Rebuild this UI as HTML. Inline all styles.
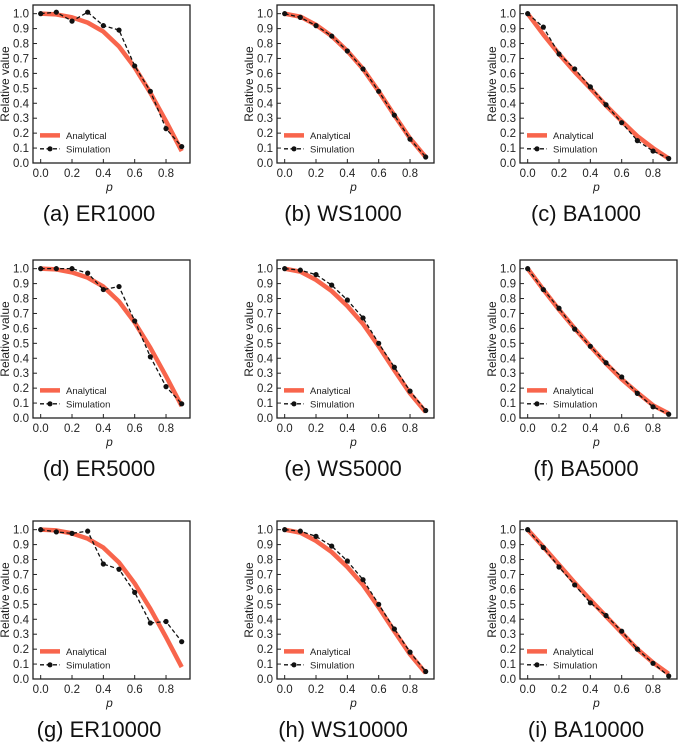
<!DOCTYPE html>
<html><head><meta charset="utf-8"><style>
body{margin:0;background:#fff;}
svg{display:block;font-family:"Liberation Sans",sans-serif;}
</style></head><body>
<svg id="fig" width="685" height="743" viewBox="0 0 685 743"></svg>
<script>
const pValues=[0,0.1,0.2,0.3,0.4,0.5,0.6,0.7,0.8,0.9];
const yTicks=[0,0.1,0.2,0.3,0.4,0.5,0.6,0.7,0.8,0.9,1.0];
const xTicks=[0,0.2,0.4,0.6,0.8];
const titles=["(a) ER1000","(b) WS1000","(c) BA1000","(d) ER5000","(e) WS5000","(f) BA5000","(g) ER10000","(h) WS10000","(i) BA10000"];
const anaER=[1.0,0.995,0.975,0.94,0.88,0.78,0.64,0.47,0.28,0.08];
const anaWS=[1.0,0.98,0.925,0.85,0.75,0.63,0.48,0.32,0.165,0.04];
const anaBA=[1.0,0.86,0.73,0.61,0.5,0.385,0.28,0.18,0.1,0.03];
const anaBA2=[1.0,0.86,0.725,0.6,0.48,0.365,0.26,0.17,0.085,0.03];
const anaBA3=[1.0,0.885,0.765,0.645,0.53,0.42,0.31,0.2,0.11,0.035];
const simA=[1.0,1.01,0.95,1.01,0.92,0.89,0.65,0.48,0.23,0.11];
const simB=[1.0,0.975,0.92,0.85,0.75,0.63,0.48,0.32,0.16,0.04];
const simC=[1.0,0.91,0.73,0.63,0.51,0.39,0.27,0.15,0.08,0.03];
const simD=[1.0,1.0,1.0,0.97,0.86,0.88,0.65,0.41,0.21,0.095];
const simE=[1.0,0.99,0.96,0.89,0.79,0.67,0.5,0.34,0.18,0.05];
const simF=[1.0,0.86,0.735,0.595,0.48,0.37,0.275,0.165,0.075,0.025];
const simG=[1.0,0.985,0.975,0.99,0.77,0.735,0.58,0.375,0.385,0.25];
const simH=[1.0,0.99,0.955,0.89,0.79,0.665,0.5,0.335,0.18,0.05];
const simI=[1.0,0.88,0.75,0.63,0.51,0.425,0.32,0.2,0.105,0.02];
const anaAll=[anaER,anaWS,anaBA,anaER,anaWS,anaBA2,anaER,anaWS,anaBA3];
const simAll=[simA,simB,simC,simD,simE,simF,simG,simH,simI];

const NS="http://www.w3.org/2000/svg";
const svg=document.getElementById('fig');
function mk(tag,attrs,parent){const e=document.createElementNS(NS,tag);for(const k in attrs)e.setAttribute(k,attrs[k]);(parent||svg).appendChild(e);return e;}
const colLeft=[33,277,520];
const rowTop=[5,260,521];
const W=157,H=158;
const XMIN=-0.049,XMAX=0.953,YMIN=0,YMAX=1.058;
for(let i=0;i<9;i++){
  const L=colLeft[i%3],T=rowTop[Math.floor(i/3)];
  const g=mk('g',{});
  
  
  const X=v=>L+(v-XMIN)/(XMAX-XMIN)*W;
  const Y=v=>T+H-(v-YMIN)/(YMAX-YMIN)*H;
  yTicks.forEach(t=>{
    mk('line',{x1:L,x2:L+4,y1:Y(t),y2:Y(t),stroke:'#222','stroke-width':1},g);
    const tx=mk('text',{x:L-4,y:Y(t)+4,'text-anchor':'end','font-size':11.5,fill:'#222'},g);
    tx.textContent=t.toFixed(1);
    
    
  });
  xTicks.forEach(t=>{
    mk('line',{x1:X(t),x2:X(t),y1:T+H,y2:T+H-4,stroke:'#222','stroke-width':1},g);
    const tx=mk('text',{x:X(t),y:T+H+14,'text-anchor':'middle','font-size':11.5,fill:'#222'},g);
    tx.textContent=t.toFixed(1);
    
    
  });
  const yl=mk('text',{x:0,y:0,transform:`translate(${L-24},${T+H/2}) rotate(-90)`,'text-anchor':'middle','font-size':12,fill:'#222'},g);
  yl.textContent='Relative value';
  
  
  const xl=mk('text',{x:L+W/2-2,y:T+H+28,'text-anchor':'middle','font-size':12,'font-style':'italic',fill:'#222'},g);
  xl.textContent='p';
  
  
  const ana=anaAll[i];
  const ap=mk('polyline',{points:pValues.map((p,k)=>X(p)+','+Y(ana[k])).join(' '),fill:'none',stroke:'#f8654c','stroke-width':4.5,'stroke-linejoin':'round'},g);
  
  
  const sim=simAll[i];
  const sp=mk('polyline',{points:pValues.map((p,k)=>X(p)+','+Y(sim[k])).join(' '),fill:'none',stroke:'#111','stroke-width':1.3,'stroke-dasharray':'4,2.5'},g);
  
  
  pValues.forEach((p,k)=>{
    const c=mk('circle',{cx:X(p),cy:Y(sim[k]),r:2.6,fill:'#111'},g);
    
    
  });
  const lg=mk('g',{},g);
  
  
  const ly1=Y(0.185),ly2=Y(0.095);
  mk('line',{x1:L+7,x2:L+27,y1:ly1,y2:ly1,stroke:'#f8654c','stroke-width':4.5},lg);
  const t1=mk('text',{x:L+33,y:ly1+3.5,'font-size':9.5,fill:'#222'},lg);
  t1.textContent='Analytical';
  
  
  mk('line',{x1:L+7,x2:L+27,y1:ly2,y2:ly2,stroke:'#111','stroke-width':1.3,'stroke-dasharray':'4,2.5'},lg);
  mk('circle',{cx:L+17,cy:ly2,r:2.6,fill:'#111'},lg);
  const t2=mk('text',{x:L+33,y:ly2+3.5,'font-size':9.5,fill:'#222'},lg);
  t2.textContent='Simulation';
  
  
  const fr=mk('rect',{x:L,y:T,width:W,height:H,fill:'none',stroke:'#222','stroke-width':1.3},g);
  
  
  const ti=mk('text',{x:L+66,y:T+H+58,'text-anchor':'middle','font-size':22,fill:'#111'},g);
  ti.textContent=titles[i];
  
  
}
</script>
</body></html>
